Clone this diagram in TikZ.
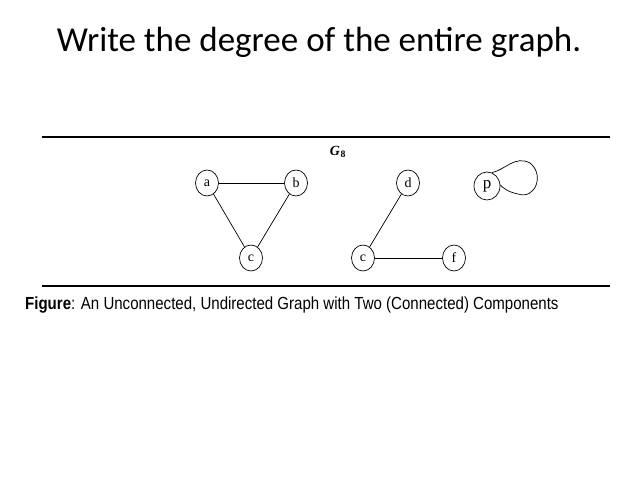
\documentclass[tikz,border=0pt]{standalone}
\usepackage{fontspec}
\usetikzlibrary{shapes.geometric}
\setmainfont{Liberation Serif}
\newfontfamily\titlefont{Carlito}
\newfontfamily\capfont{Liberation Sans}
\begin{document}
\begin{tikzpicture}[x=1pt,y=-1pt,
  vtx/.style={draw,ellipse,minimum width=23pt,minimum height=26pt,inner sep=0pt,font=\fontsize{14}{15}\selectfont,line width=0.7pt},
  edge/.style={line width=0.7pt}]
\useasboundingbox (0,0) rectangle (638,478);
\node (title) at (319,42) {\titlefont\fontsize{35}{40}\selectfont Write the degree of the entire graph.};
\draw[line width=2pt] (42,137) coordinate (t1) -- (610,137) coordinate (t2);
\draw[line width=2pt] (42,286) coordinate (b1) -- (610,286) coordinate (b2);
\node (g8) at (338,152) {\fontsize{14}{15}\selectfont\itshape\bfseries G\kern0.5pt\textsubscript{\upshape 8}};
\node[vtx] (a) at (207,183) {a};
\node[vtx] (b) at (296,183) {b};
\node[vtx] (c) at (251,258) {c};
\node[vtx] (d) at (408,183) {d};
\node[vtx] (c2) at (363,258) {c};
\node[vtx] (f) at (454,258) {f};
\node[vtx,minimum width=26pt,minimum height=28pt,font=\fontsize{17}{18}\selectfont] (p) at (487,186) {p};
\draw[edge] (a) -- (b);
\draw[edge] (a) -- (c);
\draw[edge] (b) -- (c);
\draw[edge] (d) -- (c2);
\draw[edge] (c2) -- (f);
\draw[edge] (p.70) .. controls (505,170) and (515,155) .. (530,163) .. controls (545,175) and (535,200) .. (518,194) .. controls (508,192) and (503,188) .. (p.5);
\node[anchor=west,inner sep=0pt,xscale=0.86] (cap) at (25,305) {\capfont\fontsize{17.5}{20}\selectfont\textbf{Figure}: An Unconnected, Undirected Graph with Two (Connected) Components};
\end{tikzpicture}
\end{document}
